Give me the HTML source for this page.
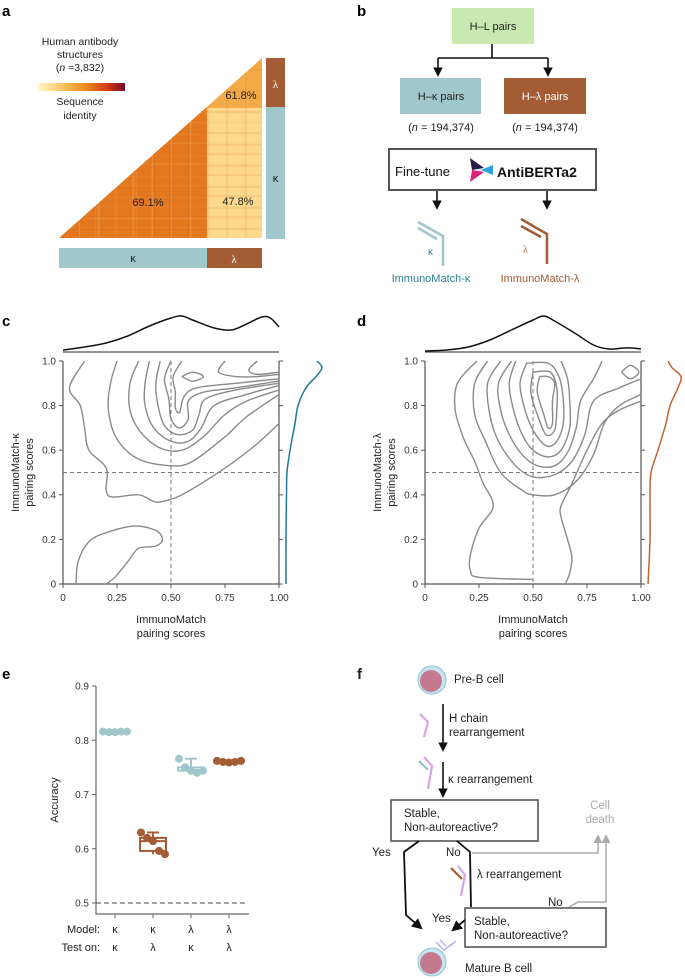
<!DOCTYPE html>
<html><head><meta charset="utf-8"><style>
html,body{margin:0;padding:0;background:#fff}
svg{display:block;font-family:"Liberation Sans",sans-serif}
</style></head><body>
<svg id="fig" width="685" height="979" viewBox="0 0 685 979" xmlns="http://www.w3.org/2000/svg">
<defs>
<clipPath id="tri"><polygon points="59,238 262,58 262,238"/></clipPath>
<linearGradient id="cbar" x1="0" x2="1"><stop offset="0" stop-color="#fff6c8"/><stop offset="0.3" stop-color="#f9c25a"/><stop offset="0.55" stop-color="#ee8a1c"/><stop offset="0.8" stop-color="#d23a16"/><stop offset="1" stop-color="#7a0a2a"/></linearGradient>
<marker id="ah" viewBox="0 0 10 10" refX="8" refY="5" markerWidth="6" markerHeight="6" orient="auto"><path d="M0,0 L10,5 L0,10 z" fill="#111"/></marker>
<marker id="ahg" viewBox="0 0 10 10" refX="8" refY="5" markerWidth="6" markerHeight="6" orient="auto"><path d="M0,0 L10,5 L0,10 z" fill="#aaa"/></marker>
</defs>

<!-- Panel a -->
<g>
<text x="2" y="16" font-size="15" font-weight="bold">a</text>
<g font-size="10.5" fill="#222" text-anchor="middle">
<text x="80" y="45">Human antibody</text><text x="80" y="58">structures</text><text x="80" y="71">(<tspan font-style="italic">n</tspan> =3,832)</text>
</g>
<rect x="38" y="83" width="87" height="8" fill="url(#cbar)"/>
<g font-size="10.5" fill="#222" text-anchor="middle"><text x="80" y="105">Sequence</text><text x="80" y="119">identity</text></g>
<g clip-path="url(#tri)" id="heat">
<rect x="59" y="58" width="148" height="180" fill="#e4781f"/>
<rect x="207" y="58" width="55" height="50" fill="#f3a945"/>
<rect x="207" y="108" width="55" height="130" fill="#fcd98c"/>
</g>
<text x="241" y="99" font-size="11" text-anchor="middle" fill="#222">61.8%</text>
<text x="148" y="206" font-size="11" text-anchor="middle" fill="#222">69.1%</text>
<text x="238" y="205" font-size="11" text-anchor="middle" fill="#222">47.8%</text>
<rect x="266" y="58" width="19" height="49" fill="#a35c33"/>
<text x="275.5" y="88" font-size="11" text-anchor="middle" fill="#fff" font-family="Liberation Serif,serif">λ</text>
<rect x="266" y="107" width="19" height="132" fill="#9fc7cc"/>
<text x="275.5" y="182" font-size="11" text-anchor="middle" fill="#222">κ</text>
<rect x="59" y="248" width="148" height="20" fill="#9fc7cc"/>
<text x="133" y="262" font-size="11" text-anchor="middle" fill="#222">κ</text>
<rect x="207" y="248" width="55" height="20" fill="#a35c33"/>
<text x="234" y="263" font-size="11" text-anchor="middle" fill="#fff" font-family="Liberation Serif,serif">λ</text>
</g>

<!-- Panel b -->
<g font-size="11">
<text x="357" y="16" font-size="15" font-weight="bold">b</text>
<rect x="452" y="8" width="82" height="36" fill="#c8eab0"/>
<text x="493" y="30" text-anchor="middle" fill="#222">H–L pairs</text>
<path d="M492,44 V58 M438,58 H548" stroke="#111" stroke-width="1.6" fill="none"/>
<line x1="438" y1="58" x2="438" y2="75" stroke="#111" stroke-width="1.6" marker-end="url(#ah)"/>
<line x1="548" y1="58" x2="548" y2="75" stroke="#111" stroke-width="1.6" marker-end="url(#ah)"/>
<rect x="400" y="78" width="81" height="36" fill="#9fc7cc"/>
<text x="441" y="100" text-anchor="middle" fill="#222">H–κ pairs</text>
<rect x="504" y="78" width="82" height="36" fill="#a35c33"/>
<text x="545" y="100" text-anchor="middle" fill="#fff">H–λ pairs</text>
<text x="441" y="131" text-anchor="middle" fill="#222">(<tspan font-style="italic">n</tspan> = 194,374)</text>
<text x="545" y="131" text-anchor="middle" fill="#222">(<tspan font-style="italic">n</tspan> = 194,374)</text>
<rect x="389" y="149" width="207" height="41" fill="#fff" stroke="#555" stroke-width="2"/>
<text x="395" y="176" font-size="13" fill="#111">Fine-tune</text>
<g><polygon points="470,158 484,168 472,170" fill="#2a1a4a"/><polygon points="470,182 484,172 472,170" fill="#e0217a"/><polygon points="481,170 493,165 493,175" fill="#2aa3e0"/></g>
<text x="497" y="177" font-size="14" font-weight="bold" fill="#111">AntiBERTa2</text>
<line x1="437" y1="191" x2="437" y2="208" stroke="#111" stroke-width="1.6" marker-end="url(#ah)"/>
<line x1="547" y1="191" x2="547" y2="208" stroke="#111" stroke-width="1.6" marker-end="url(#ah)"/>
<g stroke="#9fc7cc" stroke-width="2.5" fill="none"><path d="M418,222 L443,236 V266"/><path d="M418,228 L437,239"/></g>
<text x="428" y="255" fill="#2b7f99" font-size="10">κ</text>
<g stroke="#a35c33" stroke-width="2.5" fill="none"><path d="M521,219 L547,234 V264"/><path d="M521,226 L541,237"/></g>
<text x="523" y="253" fill="#a35c33" font-size="10" font-family="Liberation Serif,serif">λ</text>
<text x="431" y="282" text-anchor="middle" fill="#2b7f99" font-size="11">ImmunoMatch-κ</text>
<text x="540" y="282" text-anchor="middle" fill="#a35c33" font-size="11">ImmunoMatch-λ</text>
</g>

<g id="pc"><text x="2" y="326" font-size="15" font-weight="bold">c</text></g>
<g id="pd"><text x="357" y="326" font-size="15" font-weight="bold">d</text></g>
<g id="pe"><text x="2" y="679" font-size="15" font-weight="bold">e</text></g>

<!-- Panel f -->
<g font-size="11.5" fill="#222">
<text x="357" y="679" font-size="15" font-weight="bold">f</text>
<g><circle cx="432" cy="680" r="14" fill="#c5e6f0" stroke="#8fc4d8"/><circle cx="431" cy="681" r="11" fill="#c47a8e"/></g>
<text x="454" y="683">Pre-B cell</text>
<line x1="443" y1="704" x2="443" y2="750" stroke="#111" stroke-width="1.6" marker-end="url(#ah)"/>
<path d="M420,714 L428,722 L424,737" stroke="#d9a3e6" stroke-width="2.2" fill="none"/>
<text x="449" y="722">H chain</text><text x="449" y="736">rearrangement</text>
<path d="M424,757 L432,766 L428,789" stroke="#d9a3e6" stroke-width="2.2" fill="none"/>
<path d="M419,761 L428,770" stroke="#8fc4cc" stroke-width="2.2"/>
<line x1="443" y1="762" x2="443" y2="796" stroke="#111" stroke-width="1.6" marker-end="url(#ah)"/>
<text x="448" y="783">κ rearrangement</text>
<rect x="391" y="800" width="147" height="41" fill="#fff" stroke="#555" stroke-width="1.6"/>
<text x="404" y="817">Stable,</text><text x="404" y="831">Non-autoreactive?</text>
<text x="600" y="809" text-anchor="middle" fill="#aaa">Cell</text><text x="600" y="823" text-anchor="middle" fill="#aaa">death</text>
<text x="372" y="856">Yes</text><text x="446" y="856">No</text>
<path d="M419,841 L404,852 L406,915 L421,928" stroke="#111" stroke-width="1.8" fill="none" marker-end="url(#ah)"/>
<path d="M457,841 L470,852 L471,907" stroke="#111" stroke-width="1.8" fill="none"/>
<path d="M472,853 H598 V836" stroke="#aaa" stroke-width="1.5" fill="none" marker-end="url(#ahg)"/>
<path d="M569,907 L578,902 H606 V836" stroke="#aaa" stroke-width="1.5" fill="none" marker-end="url(#ahg)"/>
<path d="M451,868 L462,879" stroke="#a35c33" stroke-width="2.2"/>
<path d="M458,866 L465,875 L461,896" stroke="#d9a3e6" stroke-width="2.2" fill="none"/>
<text x="477" y="878">λ rearrangement</text>
<text x="548" y="906">No</text>
<rect x="465" y="908" width="141" height="39" fill="#fff" stroke="#555" stroke-width="1.6"/>
<text x="474" y="925">Stable,</text><text x="474" y="939">Non-autoreactive?</text>
<text x="432" y="922">Yes</text>
<line x1="465" y1="920" x2="453" y2="930" stroke="#111" stroke-width="1.8" marker-end="url(#ah)"/>
<g><circle cx="432" cy="962" r="14" fill="#c5e6f0" stroke="#8fc4d8"/><circle cx="431" cy="963" r="11" fill="#c47a8e"/><path d="M436,942 L444,950 L452,944 M440,940 L446,946 M456,941 L450,946" stroke="#b9b0ee" stroke-width="1.5" fill="none"/></g>
<text x="465" y="972">Mature B cell</text>
</g>
</svg>
<script>
// ===== Panel e data =====
const eCategories = ["κκ","κλ","λκ","λλ"];
const eModel = ["κ","κ","λ","λ"];
const eTest = ["κ","λ","κ","λ"];
const eColors = ["#9fc7cc","#a35c33","#9fc7cc","#a35c33"];
const eVals0 = [0.816,0.815,0.815,0.816,0.816];
const eVals1 = [0.630,0.620,0.614,0.596,0.590];
const eVals2 = [0.766,0.750,0.744,0.740,0.744];
const eVals3 = [0.762,0.760,0.759,0.760,0.762];
const eTicks = [0.5,0.6,0.7,0.8,0.9];
const eChance = 0.5;

// ===== Panel c/d marginal densities =====
const densX = [0,0.1,0.2,0.3,0.4,0.5,0.55,0.6,0.7,0.78,0.85,0.92,0.96,1.0];
const cTopDens = [2,5,9,16,26,34,36,32,24,22,28,35,34,25];
const dTopDens = [1,2,5,12,22,32,36,31,18,7,3,4,4,3];
const densY = [0,0.2,0.4,0.5,0.6,0.72,0.8,0.88,0.93,0.97,1.0];
const cRightDens = [0,0,0.5,1,4,9,12,20,30,36,31];
const dRightDens = [0,2,2,3,10,18,22,30,33,24,20];
const axTicksX = [0,0.25,0.5,0.75,1.0];
const axTickLabelsX = ["0","0.25","0.50","0.75","1.00"];
const axTicksY = [0,0.2,0.4,0.6,0.8,1.0];
const axTickLabelsY = ["0","0.2","0.4","0.6","0.8","1.0"];

const cContours = [
 [[0.1,1],[0.03,0.88],[0.08,0.8],[0.1,0.7],[0.12,0.6],[0.2,0.52],[0.2,0.42],[0.23,0.39],[0.35,0.4],[0.42,0.37],[0.46,0.37],[0.55,0.4],[0.75,0.52],[0.9,0.63],[1,0.72]],
 [[0.25,1],[0.22,0.9],[0.21,0.78],[0.25,0.65],[0.35,0.56],[0.5,0.53],[0.6,0.55],[0.75,0.66],[0.85,0.75],[1,0.85]],
 [[0.35,1],[0.31,0.9],[0.31,0.78],[0.36,0.68],[0.45,0.61],[0.55,0.6],[0.65,0.66],[0.75,0.76],[0.85,0.82],[1,0.87]],
 [[0.4,1],[0.38,0.9],[0.38,0.8],[0.42,0.7],[0.5,0.64],[0.58,0.64],[0.64,0.7],[0.7,0.8],[0.85,0.85],[1,0.89]],
 [[0.45,1],[0.43,0.9],[0.44,0.8],[0.47,0.71],[0.53,0.67],[0.6,0.69],[0.63,0.76],[0.66,0.83],[0.8,0.87],[1,0.9]],
 [[0.5,1],[0.47,0.92],[0.49,0.83],[0.5,0.74],[0.54,0.7],[0.58,0.74],[0.58,0.82],[0.65,0.86],[0.8,0.88],[1,0.91]],
 [[0.55,1],[0.51,0.93],[0.52,0.86],[0.52,0.79],[0.54,0.77],[0.56,0.84],[0.62,0.88],[0.8,0.9],[1,0.92]],
 [[0.55,0.93],[0.6,0.95],[0.65,0.93],[0.6,0.91],[0.55,0.93]],
 [[0.75,1],[0.72,0.95],[0.8,0.93],[0.9,0.93],[1,0.94]],
 [[0.9,1],[0.86,0.96],[0.9,0.94],[1,0.95]],
 [[0.06,0],[0.07,0.1],[0.12,0.19],[0.2,0.23],[0.33,0.26],[0.43,0.24],[0.46,0.2],[0.43,0.17],[0.35,0.16],[0.3,0.1],[0.24,0.03],[0.2,0]]
];
const dContours = [
 [[0.24,1],[0.15,0.9],[0.14,0.78],[0.18,0.65],[0.23,0.55],[0.27,0.45],[0.31,0.38],[0.31,0.33],[0.25,0.25],[0.21,0.13],[0.21,0.06],[0.25,0.03],[0.5,0.02]],
 [[0.65,0],[0.67,0.05],[0.68,0.12],[0.66,0.2],[0.63,0.3],[0.63,0.35],[0.68,0.45],[0.75,0.6],[0.82,0.72],[0.9,0.78],[1,0.82]],
 [[0.29,1],[0.23,0.9],[0.23,0.76],[0.28,0.64],[0.35,0.5],[0.45,0.42],[0.5,0.4],[0.6,0.4],[0.7,0.46],[0.78,0.58],[0.83,0.72],[0.9,0.8],[1,0.85]],
 [[0.35,1],[0.29,0.9],[0.3,0.76],[0.34,0.64],[0.42,0.53],[0.5,0.48],[0.6,0.49],[0.68,0.55],[0.74,0.67],[0.78,0.82],[0.9,0.88],[1,0.92]],
 [[0.4,1],[0.34,0.9],[0.35,0.78],[0.39,0.67],[0.45,0.58],[0.52,0.53],[0.6,0.53],[0.66,0.59],[0.7,0.7],[0.72,0.82],[0.78,0.92],[0.82,1]],
 [[0.42,1],[0.39,0.9],[0.41,0.78],[0.45,0.67],[0.5,0.6],[0.57,0.57],[0.63,0.6],[0.67,0.7],[0.67,0.82],[0.66,0.92],[0.63,1]],
 [[0.47,0.99],[0.44,0.9],[0.46,0.79],[0.5,0.69],[0.56,0.62],[0.61,0.64],[0.64,0.72],[0.64,0.83],[0.62,0.93],[0.57,0.99],[0.47,0.99]],
 [[0.5,0.95],[0.49,0.86],[0.52,0.76],[0.56,0.67],[0.6,0.69],[0.61,0.78],[0.61,0.88],[0.58,0.95],[0.5,0.95]],
 [[0.53,0.93],[0.52,0.86],[0.55,0.76],[0.57,0.7],[0.59,0.72],[0.59,0.82],[0.6,0.9],[0.57,0.93],[0.53,0.93]],
 [[0.91,0.95],[0.95,0.98],[0.99,0.95],[0.95,0.92],[0.91,0.95]]
];

const NS="http://www.w3.org/2000/svg";
function mk(tag, attrs, parent){const e=document.createElementNS(NS,tag);for(const k in attrs)e.setAttribute(k,attrs[k]);parent.appendChild(e);return e;}
function smooth(pts){let d="M"+pts[0][0].toFixed(1)+","+pts[0][1].toFixed(1);for(let i=0;i<pts.length-1;i++){const p0=pts[i-1]||pts[i],p1=pts[i],p2=pts[i+1],p3=pts[i+2]||p2;const c1=[p1[0]+(p2[0]-p0[0])/6,p1[1]+(p2[1]-p0[1])/6],c2=[p2[0]-(p3[0]-p1[0])/6,p2[1]-(p3[1]-p1[1])/6];d+=" C"+c1.join(",")+" "+c2.join(",")+" "+p2.join(",");}return d;}

// heatmap stripes
const heat=document.getElementById('heat');
for(let i=0;i<40;i++){
 const x=59+((i*37)%203), y=58+((i*53)%180);
 mk('line',{x1:x,y1:58,x2:x,y2:238,stroke:i%3?"#f6c070":"#c9501a","stroke-width":0.6,opacity:x>207?0.25:0.5},heat);
 mk('line',{x1:59,y1:y,x2:262,y2:y,stroke:i%3?"#f6c070":"#c9501a","stroke-width":0.6,opacity:0.35},heat);
}

function scatterPanel(gid, x0, contours, topDens, rightDens, rightColor, ylab){
 const g=document.getElementById(gid);
 const W=216, y0=584, H=223;
 const xs=v=>x0+v*W, ys=v=>y0-v*H;
 const ax=mk('path',{d:`M${x0},${ys(1)} V${y0} H${xs(1)} V${ys(1)}`,stroke:"#555","stroke-width":1.2,fill:"none"},g);
 
 
 mk('line',{x1:x0,y1:352,x2:xs(1),y2:352,stroke:"#555","stroke-width":1.2},g);
 axTicksX.forEach((t,i)=>{
  mk('line',{x1:xs(t),y1:y0,x2:xs(t),y2:y0+4,stroke:"#555"},g);
  const tx=mk('text',{x:xs(t),y:y0+17,"font-size":10,"text-anchor":"middle",fill:"#333"},g);tx.textContent=axTickLabelsX[i];
  
  
 });
 axTicksY.forEach((t,i)=>{
  mk('line',{x1:x0,y1:ys(t),x2:x0-4,y2:ys(t),stroke:"#555"},g);
  mk('line',{x1:xs(1),y1:ys(t),x2:xs(1)+4,y2:ys(t),stroke:"#555"},g);
  const tx=mk('text',{x:x0-7,y:ys(t)+3.5,"font-size":10,"text-anchor":"end",fill:"#333"},g);tx.textContent=axTickLabelsY[i];
  
  
 });
 mk('line',{x1:xs(0.5),y1:ys(1),x2:xs(0.5),y2:y0,stroke:"#777","stroke-dasharray":"4,3"},g);
 mk('line',{x1:x0,y1:ys(0.5),x2:xs(1),y2:ys(0.5),stroke:"#777","stroke-dasharray":"4,3"},g);
 contours.forEach(c=>{
  const p=mk('path',{d:smooth(c.map(q=>[xs(q[0]),ys(q[1])])),stroke:"#8a8a8a","stroke-width":1.4,fill:"none"},g);
  
  
 });
 const tp=mk('path',{d:smooth(densX.map((v,i)=>[xs(v),352-topDens[i]])),stroke:"#111","stroke-width":1.5,fill:"none"},g);
 
 
 const rp=mk('path',{d:smooth(densY.map((v,i)=>[xs(1)+7+rightDens[i],ys(v)])),stroke:rightColor,"stroke-width":1.5,fill:"none"},g);
 
 
 const xl=mk('text',{x:xs(0.5),y:623,"font-size":11,"text-anchor":"middle",fill:"#222"},g);
 xl.innerHTML='<tspan x="'+xs(0.5)+'">ImmunoMatch</tspan><tspan x="'+xs(0.5)+'" dy="14">pairing scores</tspan>';
 
 
 const yl=mk('text',{transform:`translate(${x0-44},${ys(0.5)}) rotate(-90)`,"font-size":11,"text-anchor":"middle",fill:"#222"},g);
 yl.innerHTML='<tspan x="0">'+ylab+'</tspan><tspan x="0" dy="14">pairing scores</tspan>';
 
 
}
scatterPanel('pc',63,cContours,cTopDens,cRightDens,"#1f7a99","ImmunoMatch-κ");
scatterPanel('pd',425,dContours,dTopDens,dRightDens,"#c0652f","ImmunoMatch-λ");

// panel e
(function(){
 const g=document.getElementById('pe');
 const ye=v=>903-(v-0.5)*542.5;
 const xe=i=>115+i*38;
 mk('path',{d:`M96,${ye(0.9)} V914 H249`,stroke:"#666","stroke-width":1.2,fill:"none"},g);
 eTicks.forEach(t=>{
  mk('line',{x1:96,y1:ye(t),x2:92,y2:ye(t),stroke:"#666"},g);
  const tx=mk('text',{x:89,y:ye(t)+3.5,"font-size":10,"text-anchor":"end",fill:"#333"},g);tx.textContent=t.toFixed(1);
  
  
 });
 const cl=mk('line',{x1:96,y1:ye(eChance),x2:248,y2:ye(eChance),stroke:"#444","stroke-dasharray":"5,3"},g);
 
 
 const yl=mk('text',{transform:`translate(58,800) rotate(-90)`,"font-size":11,"text-anchor":"middle",fill:"#222"},g);yl.textContent="Accuracy";
 
 
 const m1=mk('text',{x:100,y:933,"font-size":11,"text-anchor":"end",fill:"#222"},g);m1.textContent="Model:";
 const m2=mk('text',{x:100,y:951,"font-size":11,"text-anchor":"end",fill:"#222"},g);m2.textContent="Test on:";
 const all=[eVals0,eVals1,eVals2,eVals3];
 all.forEach((vals,i)=>{
  const x=xe(i), col=eColors[i];
  mk('line',{x1:x,y1:914,x2:x,y2:918,stroke:"#666"},g);
  const a=mk('text',{x:x,y:933,"font-size":11,"text-anchor":"middle",fill:"#222"},g);a.textContent=eModel[i];
  const b=mk('text',{x:x,y:951,"font-size":11,"text-anchor":"middle",fill:"#222"},g);b.textContent=eTest[i];
  const s=[...vals].sort((p,q)=>p-q);
  const q1=s[1],q3=s[3],med=s[2];
  const bx=mk('rect',{x:x-13,y:ye(q3),width:26,height:Math.max(1,ye(q1)-ye(q3)),fill:"#fff",stroke:col,"stroke-width":2},g);
  
  
  mk('line',{x1:x-13,y1:ye(med),x2:x+13,y2:ye(med),stroke:col,"stroke-width":2},g);
  mk('line',{x1:x,y1:ye(s[4]),x2:x,y2:ye(q3),stroke:col,"stroke-width":2},g);
  mk('line',{x1:x-6,y1:ye(s[4]),x2:x+6,y2:ye(s[4]),stroke:col,"stroke-width":2},g);
  mk('line',{x1:x,y1:ye(s[0]),x2:x,y2:ye(q1),stroke:col,"stroke-width":2},g);
  vals.forEach((v,j)=>{
   const c=mk('circle',{cx:x-12+j*6,cy:ye(v),r:4,fill:col},g);
   
   
  });
 });
})();
</script>
</body></html>
